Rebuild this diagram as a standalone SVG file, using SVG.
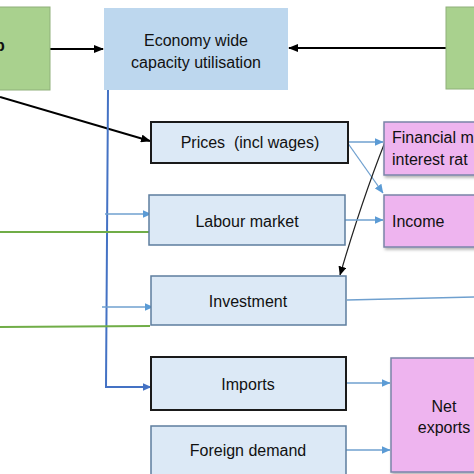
<svg xmlns="http://www.w3.org/2000/svg" width="474" height="474" viewBox="0 0 474 474">
<style>
text{font-family:"Liberation Sans",Arial,sans-serif;font-size:16px;fill:#111}
.mid{text-anchor:middle}
.green{fill:#a9d18e;stroke:#8fb07a;stroke-width:1}
.cap{fill:#bdd7ee}
.box{fill:#dce9f6;stroke:#5d7d9e;stroke-width:1.5}
.dark{fill:#dce9f6;stroke:#1a1a1a;stroke-width:2}
.pink{fill:#eeb4ef;stroke:#7a84a8;stroke-width:1.5}
.blk{stroke:#000;stroke-width:2;fill:none}
.thin{stroke:#6fa0cf;stroke-width:1.3;fill:none}
.grn{stroke:#70ad47;stroke-width:2.2;fill:none}
.blu{stroke:#4472c4;stroke-width:2;fill:none}
</style>
<defs>
<marker id="ab" markerWidth="10" markerHeight="8" refX="9" refY="4" orient="auto" markerUnits="userSpaceOnUse"><path d="M0,0 L10,4 L0,8 z" fill="#000"/></marker>
<marker id="at" markerWidth="9" markerHeight="8" refX="8.5" refY="4" orient="auto" markerUnits="userSpaceOnUse"><path d="M0,0 L9,4 L0,8 z" fill="#5b9bd5"/></marker>
<marker id="au" markerWidth="9" markerHeight="8" refX="8.5" refY="4" orient="auto" markerUnits="userSpaceOnUse"><path d="M0,0 L9,4 L0,8 z" fill="#4472c4"/></marker>
<marker id="ak" markerWidth="9" markerHeight="8" refX="8.5" refY="4" orient="auto" markerUnits="userSpaceOnUse"><path d="M0,0 L9,4 L0,8 z" fill="#000"/></marker>
<filter id="sh" x="-10%" y="-10%" width="130%" height="130%"><feDropShadow dx="1.5" dy="2" stdDeviation="1.5" flood-color="#000" flood-opacity="0.3"/></filter>
</defs>

<g id="connectors">
<line class="blk" x1="50" y1="49" x2="103" y2="49" marker-end="url(#ab)"/>
<line class="blk" x1="446" y1="48" x2="289" y2="48" marker-end="url(#ab)"/>
<line class="blk" x1="0" y1="97" x2="150" y2="141" marker-end="url(#ab)"/>
<polyline class="blu" points="108,90 106,387 151,387" marker-end="url(#au)"/>
<line class="thin" x1="105" y1="214" x2="151" y2="214" marker-end="url(#at)"/>
<line class="thin" x1="102" y1="307" x2="153" y2="307" marker-end="url(#at)"/>
<line class="grn" x1="0" y1="232" x2="150" y2="232"/>
<line class="grn" x1="0" y1="327" x2="150" y2="326"/>
<line class="thin" x1="348" y1="142" x2="383" y2="142" marker-end="url(#at)"/>
<line class="thin" x1="347" y1="142" x2="383" y2="193" marker-end="url(#at)"/>
<path d="M385,142 Q362,200 340,275" stroke="#222" stroke-width="1.2" fill="none" marker-end="url(#ak)"/>
<line class="thin" x1="345" y1="220" x2="383" y2="220" marker-end="url(#at)"/>
<line class="thin" x1="347" y1="300" x2="474" y2="297"/>
<line class="thin" x1="346" y1="383" x2="390" y2="383" marker-end="url(#at)"/>
<line class="thin" x1="346" y1="450" x2="390" y2="450" marker-end="url(#at)"/>
</g>

<g id="node-left-green">
<rect class="green" x="-10" y="7" width="60" height="83"/>
<text x="-5" y="51" style="font-weight:bold">p</text>
</g>
<g id="node-right-green">
<rect class="green" x="446" y="7" width="40" height="82"/>
</g>
<g id="node-capacity">
<rect class="cap" x="104" y="8" width="184" height="82"/>
<text class="mid" x="196" y="46">Economy wide</text>
<text class="mid" x="196" y="68">capacity utilisation</text>
</g>
<g id="node-prices">
<rect class="dark" x="151" y="122" width="197" height="41"/>
<text class="mid" x="250" y="148" xml:space="preserve">Prices  (incl wages)</text>
</g>
<g id="node-financial">
<rect class="pink" x="384" y="122" width="100" height="53" filter="url(#sh)"/>
<text x="392" y="143">Financial m</text>
<text x="392" y="165">interest rat</text>
</g>
<g id="node-labour">
<rect class="box" x="149" y="195" width="196" height="50"/>
<text class="mid" x="247" y="227">Labour market</text>
</g>
<g id="node-income">
<rect class="pink" x="384" y="195" width="100" height="52" filter="url(#sh)"/>
<text x="392" y="227">Income</text>
</g>
<g id="node-investment">
<rect class="box" x="151" y="276" width="195" height="49"/>
<text class="mid" x="248" y="307">Investment</text>
</g>
<g id="node-imports">
<rect class="dark" x="151" y="357" width="195" height="53"/>
<text class="mid" x="248" y="390">Imports</text>
</g>
<g id="node-foreign">
<rect class="box" x="151" y="426" width="195" height="60"/>
<text class="mid" x="248" y="456">Foreign demand</text>
</g>
<g id="node-netexports">
<rect class="pink" x="391" y="358" width="100" height="114" filter="url(#sh)"/>
<text class="mid" x="444" y="412">Net</text>
<text class="mid" x="444" y="433">exports</text>
</g>
</svg>
